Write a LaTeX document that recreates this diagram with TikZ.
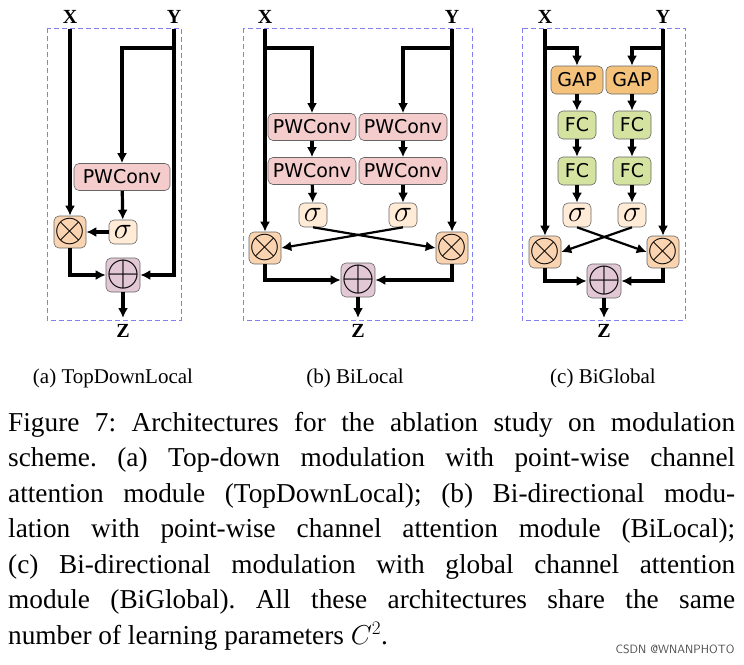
\documentclass[tikz,border=0pt]{standalone}
\usepackage{fix-cm}
\usepackage{fontspec}
\setmainfont{Liberation Serif}
\newfontfamily\dsans{DejaVu Sans}
\usetikzlibrary{arrows.meta}
\definecolor{cpw}{HTML}{F4CCCC}
\definecolor{cmul}{HTML}{FAD4B0}
\definecolor{csig}{HTML}{FFEBD6}
\definecolor{cadd}{HTML}{E2C8D4}
\definecolor{cgap}{HTML}{F5C27C}
\definecolor{cfc}{HTML}{D5E3A0}
\definecolor{cbox}{HTML}{8080F0}
\newcommand\bigotimesym{\scalebox{2.1}{$\otimes$}}
\newcommand\bigoplussym{\scalebox{2.3}{$\oplus$}}
\newcommand\bigsigsym{\scalebox{1.6}{$\sigma$}}
\begin{document}
\frenchspacing
\begin{tikzpicture}[x=1pt,y=-1pt,
 blk/.style={draw=black!60,line width=0.6pt,rounded corners=5pt,inner sep=0pt,font=\dsans\fontsize{19}{19}\selectfont},
 pw/.style={blk,fill=cpw,minimum width=#1,minimum height=27pt},
 mul/.style={blk,fill=cmul,minimum size=32pt},
 add/.style={blk,fill=cadd,minimum size=34pt},
 sig/.style={blk,fill=csig,minimum width=28pt,minimum height=24pt},
 gap/.style={blk,fill=cgap,minimum width=52pt,minimum height=28pt},
 fc/.style={blk,fill=cfc,minimum width=38pt,minimum height=28pt},
 frame/.style={draw=cbox,line width=0.8pt,dash pattern=on 5pt off 3pt},
 lbl/.style={font=\bfseries\fontsize{20}{20}\selectfont,inner sep=0pt},
 ln/.style={line width=3.2pt},
 ar/.style={ln,-{Latex[length=10pt,width=10pt]}}]
\useasboundingbox (0,0) rectangle (744,664);
% ---------------- (a)
\draw[frame] (47,28) rectangle (181,320);
\node[lbl] (Xa) at (70,17) {X};
\node[lbl] (Ya) at (174,17) {Y};
\node[lbl] (Za) at (123,331) {Z};
\coordinate (xa) at (70,29); \coordinate (ya) at (174,29); \coordinate (za) at (123,318);
\node[pw=96pt] (pwa) at (122,177) {PWConv};
\node[sig] (sa) at (123,232) {\bigsigsym};
\node[mul] (ma) at (70,232) {\bigotimesym};
\node[add] (aa) at (123,275) {\bigoplussym};
\draw[ar] (xa) -- (ma);
\draw[ar] (ya) |- (aa);
\draw[ar] (174,48) -| (pwa);
\draw[ar] (pwa) -- (sa);
\draw[ar] (sa) -- (ma);
\draw[ar] (ma) |- (aa);
\draw[ar] (aa) -- (za);
% ---------------- (b)
\draw[frame] (243,28) rectangle (472,320);
\node[lbl] (Xb) at (265,17) {X};
\node[lbl] (Yb) at (452,17) {Y};
\node[lbl] (Zb) at (358,331) {Z};
\coordinate (xb) at (265,29); \coordinate (yb) at (452,29); \coordinate (zb) at (358,318);
\node[pw=88pt] (p1l) at (312,127) {PWConv};
\node[pw=88pt] (p2l) at (312,171) {PWConv};
\node[pw=88pt] (p1r) at (403,127) {PWConv};
\node[pw=88pt] (p2r) at (403,171) {PWConv};
\node[sig] (sbl) at (313,215) {\bigsigsym};
\node[sig] (sbr) at (403,215) {\bigsigsym};
\node[mul] (mbl) at (265,248) {\bigotimesym};
\node[mul] (mbr) at (452,248) {\bigotimesym};
\node[add] (ab) at (358,280) {\bigoplussym};
\draw[ar] (xb) -- (mbl);
\draw[ar] (yb) -- (mbr);
\draw[ar] (265,48) -| (p1l);
\draw[ar] (452,48) -| (p1r);
\draw[ar] (p1l) -- (p2l); \draw[ar] (p2l) -- (sbl);
\draw[ar] (p1r) -- (p2r); \draw[ar] (p2r) -- (sbr);
\draw[ar,line width=2.2pt] (sbl.south) -- (mbr.west);
\draw[ar,line width=2.2pt] (sbr.south) -- (mbl.east);
\draw[ar] (mbl) |- (ab);
\draw[ar] (mbr) |- (ab);
\draw[ar] (ab) -- (zb);
% ---------------- (c)
\draw[frame] (522,28) rectangle (685,320);
\node[lbl] (Xc) at (545,17) {X};
\node[lbl] (Yc) at (663,17) {Y};
\node[lbl] (Zc) at (604,331) {Z};
\coordinate (xc) at (545,29); \coordinate (yc) at (663,29); \coordinate (zc) at (604,318);
\node[gap] (gl) at (577,80) {GAP};
\node[gap] (gr) at (632,80) {GAP};
\node[fc] (f1l) at (577,125) {FC};
\node[fc] (f2l) at (577,171) {FC};
\node[fc] (f1r) at (632,125) {FC};
\node[fc] (f2r) at (632,171) {FC};
\node[sig] (scl) at (577,215) {\bigsigsym};
\node[sig] (scr) at (632,215) {\bigsigsym};
\node[mul] (mcl) at (545,252) {\bigotimesym};
\node[mul] (mcr) at (663,252) {\bigotimesym};
\node[add] (ac) at (604,281) {\bigoplussym};
\draw[ar] (xc) -- (mcl);
\draw[ar] (yc) -- (mcr);
\draw[ar] (545,48) -| (gl);
\draw[ar] (663,48) -| (gr);
\draw[ar] (gl) -- (f1l); \draw[ar] (f1l) -- (f2l); \draw[ar] (f2l) -- (scl);
\draw[ar] (gr) -- (f1r); \draw[ar] (f1r) -- (f2r); \draw[ar] (f2r) -- (scr);
\draw[ar,line width=2.2pt] (scl.south) -- (mcr.west);
\draw[ar,line width=2.2pt] (scr.south) -- (mcl.east);
\draw[ar] (mcl) |- (ac);
\draw[ar] (mcr) |- (ac);
\draw[ar] (ac) -- (zc);
% ---------------- captions
\node[font=\fontsize{21}{21}\selectfont] (ca) at (113,378) {(a) TopDownLocal};
\node[font=\fontsize{21}{21}\selectfont] (cb) at (355,378) {(b) BiLocal};
\node[font=\fontsize{21}{21}\selectfont] (cc) at (603,378) {(c) BiGlobal};
\node[anchor=north west,inner sep=0pt,text width=727pt,align=justify,
 font=\fontsize{27.3}{35.5}\selectfont] (cap) at (8,412) {Figure 7: Architectures for the ablation study on modulation\linebreak
scheme. (a) Top-down modulation with point-wise channel\linebreak
attention module (TopDownLocal); (b) Bi-directional modu-\linebreak
lation with point-wise channel attention module (BiLocal);\linebreak
(c) Bi-directional modulation with global channel attention\linebreak
module (BiGlobal). All these architectures share the same\linebreak
number of learning parameters $C^2$.\hfill\null};
\node[anchor=south east,font=\sffamily\fontsize{12}{12}\selectfont,text=black!70] (wm) at (738,657) {CSDN @WNANPHOTO};
\end{tikzpicture}
\end{document}
